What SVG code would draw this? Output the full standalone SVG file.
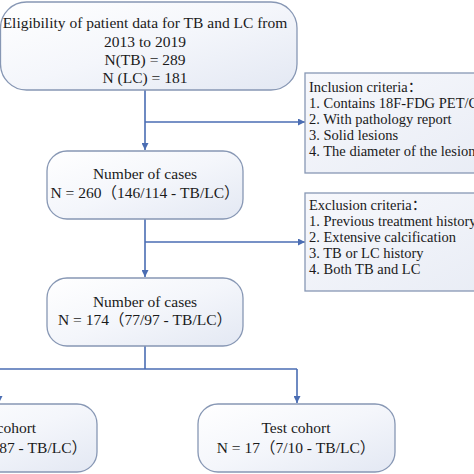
<svg xmlns="http://www.w3.org/2000/svg" width="474" height="474" viewBox="0 0 474 474">
<defs>
<linearGradient id="gNode" x1="0" y1="0" x2="1" y2="1">
<stop offset="0" stop-color="#ffffff"/>
<stop offset="0.5" stop-color="#f4f6fb"/>
<stop offset="1" stop-color="#e3e8f3"/>
</linearGradient>
<linearGradient id="gCrit" x1="0" y1="0" x2="1" y2="1">
<stop offset="0" stop-color="#f7f8fc"/>
<stop offset="1" stop-color="#e8ecf5"/>
</linearGradient>
<marker id="arr" viewBox="0 0 10 10" refX="10" refY="5" markerWidth="7" markerHeight="7" markerUnits="userSpaceOnUse" orient="auto">
<path d="M0,0 L10,5 L0,10 z" fill="#4a6db3"/>
</marker>
</defs>
<style>
.node{fill:url(#gNode);stroke:#8797b4;stroke-width:1.3}
.crit{fill:url(#gCrit);stroke:#8797b4;stroke-width:1.3}
.t{font-family:"Liberation Serif","Noto Sans CJK SC",serif;font-size:15.5px;fill:#1a1a1a}
.c{text-anchor:middle}
.l{font-family:"Liberation Serif","Noto Sans CJK SC",serif;font-size:14.5px;fill:#1a1a1a}
.con{stroke:#4a6db3;stroke-width:1.6;fill:none}
</style>
<rect width="474" height="474" fill="#ffffff"/>
<g id="connectors">
<line class="con" x1="145" y1="90" x2="145" y2="150" marker-end="url(#arr)"/>
<line class="con" x1="145" y1="122" x2="305" y2="122" marker-end="url(#arr)"/>
<line class="con" x1="145" y1="219" x2="145" y2="277" marker-end="url(#arr)"/>
<line class="con" x1="145" y1="242" x2="305" y2="242" marker-end="url(#arr)"/>
<line class="con" x1="145" y1="346" x2="145" y2="369"/>
<line class="con" x1="-1" y1="369" x2="297" y2="369"/>
<line class="con" x1="297" y1="369" x2="297" y2="403" marker-end="url(#arr)"/>
<line class="con" x1="-1" y1="369" x2="-1" y2="403" marker-end="url(#arr)"/>
</g>
<g id="eligibility">
<rect class="node" x="0.5" y="2" width="296.5" height="88" rx="26"/>
<text class="t c" x="145" y="28">Eligibility of  patient data for TB and LC from</text>
<text class="t c" x="145" y="47">2013 to 2019</text>
<text class="t c" x="145" y="65">N(TB) = 289</text>
<text class="t c" x="145" y="83">N (LC) = 181</text>
</g>
<g id="inclusion">
<rect class="crit" x="305" y="73" width="200" height="100"/>
<text class="l" x="309" y="92">Inclusion criteria：</text>
<text class="l" x="309" y="108">1. Contains 18F-FDG PET/CT</text>
<text class="l" x="309" y="124">2. With pathology report</text>
<text class="l" x="309" y="140">3. Solid lesions</text>
<text class="l" x="309" y="156">4. The diameter of the lesion</text>
</g>
<g id="cases1">
<rect class="node" x="47" y="151" width="196" height="68" rx="20"/>
<text class="t c" x="145" y="179">Number of cases</text>
<text class="t c" x="145" y="198">N = 260（146/114 - TB/LC）</text>
</g>
<g id="exclusion">
<rect class="crit" x="305" y="193" width="200" height="98"/>
<text class="l" x="309" y="210">Exclusion criteria：</text>
<text class="l" x="309" y="226">1. Previous treatment history</text>
<text class="l" x="309" y="242">2. Extensive calcification</text>
<text class="l" x="309" y="258">3. TB or LC history</text>
<text class="l" x="309" y="274">4. Both TB and LC</text>
</g>
<g id="cases2">
<rect class="node" x="47" y="278" width="196" height="68" rx="20"/>
<text class="t c" x="145" y="307">Number of cases</text>
<text class="t c" x="145" y="325">N = 174（77/97 - TB/LC）</text>
</g>
<g id="training">
<rect class="node" x="-99" y="404" width="196" height="68" rx="20"/>
<text class="t c" x="-12" y="433">Training cohort</text>
<text class="t c" x="0" y="453">N = 157（70/87 - TB/LC）</text>
</g>
<g id="test">
<rect class="node" x="198" y="404" width="197" height="68" rx="20"/>
<text class="t c" x="296" y="433">Test cohort</text>
<text class="t c" x="296" y="453">N = 17（7/10 - TB/LC）</text>
</g>
</svg>
